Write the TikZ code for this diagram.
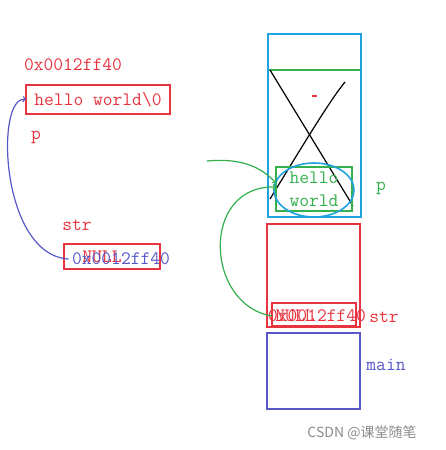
\documentclass[tikz,border=0pt]{standalone}
\usepackage{fontspec}
\newfontfamily\cjk{Noto Sans CJK SC}
\usetikzlibrary{calc}
\definecolor{memred}{RGB}{232,52,64}
\definecolor{memblue}{RGB}{88,88,200}
\definecolor{memgreen}{RGB}{52,176,76}
\definecolor{memcyan}{RGB}{32,162,222}
\definecolor{markgray}{RGB}{140,140,140}
\begin{document}
\begin{tikzpicture}[x=1pt,y=-1pt,
    font=\ttfamily\fontsize{19}{21}\selectfont,
    cell/.style={draw, inner sep=0pt, outer sep=0pt, line width=2pt, anchor=north west}]
      \useasboundingbox (0,0) rectangle (445,450);

      %draw left side (string constant and pointer)
      \node[memred] (addr) at (73,65) {0x0012ff40};
      \node[cell, memred, minimum width=144pt, minimum height=29pt] (hw) at (26,85) {hello world\textbackslash 0};
      \node[memred] (plbl) at (36,137) {p};
      \node[memred] (strlbl) at (77,225) {str};
      \node[cell, memred, minimum width=96pt, minimum height=25pt] (strbox) at (64,244) {};
      \node[memred] (nulll) at (102,257) {NULL};
      \node[memblue] (ptrval) at (121,259) {0x0012ff40};
      \draw[memblue, line width=1.2pt, ->] (ptrval.west) .. controls (0,255) and (-5,95) .. (hw.west);

      %draw stack frames
      \draw[memgreen, line width=2pt] (268,70) rectangle (361,217);
      \node[cell, memcyan, minimum width=93pt, minimum height=183pt] (pframe) at (268,34) {};
      \draw[black, line width=1.2pt] (270,70) -- (353,206); %draw cross
      \draw[black, line width=1.2pt] (270,199) .. controls (300,150) and (330,100) .. (345,82);
      \draw[memred, line width=1.5pt] (312,96) -- (317,96);
      \node[cell, memgreen, minimum width=76pt, minimum height=44pt, align=center,
            font=\ttfamily\fontsize{19}{23}\selectfont] (hwr) at (276,167) {hello\\world};
      \draw[memcyan, line width=1.6pt] (314,190) ellipse (40 and 27);
      \node[cell, memred, minimum width=93pt, minimum height=103pt] (strframe) at (267,224) {};
      \node[cell, memred, minimum width=84pt, minimum height=23pt] (strcell) at (272,303) {};
      \node[memred] (nullr) at (295,316) {NULL};
      \node[memred] (ptrr) at (317,316) {0x0012ff40};
      \node[cell, memblue, minimum width=93pt, minimum height=76pt] (mainframe) at (267,333) {};

      %draw arrows into the copied string
      \coordinate (gin) at (207,161);
      \draw[memgreen, line width=1.2pt, ->] (gin) .. controls (240,158) and (260,166) .. ($(hwr.west)+(0,-6)$);
      \draw[memgreen, line width=1.2pt, ->] (nullr.west) .. controls (205,305) and (200,185) .. ($(hwr.west)+(0,-2)$);

      %draw labels
      \node[memgreen] (plbr) at (381,188) {p};
      \node[memred] (strlbr) at (384,317) {str};
      \node[memblue] (mainlbl) at (386,365) {main};
      \node[markgray, font=\cjk\fontsize{14}{16}\selectfont] (mark) at (362,433) {CSDN @课堂随笔};
    \end{tikzpicture}
\end{document}
